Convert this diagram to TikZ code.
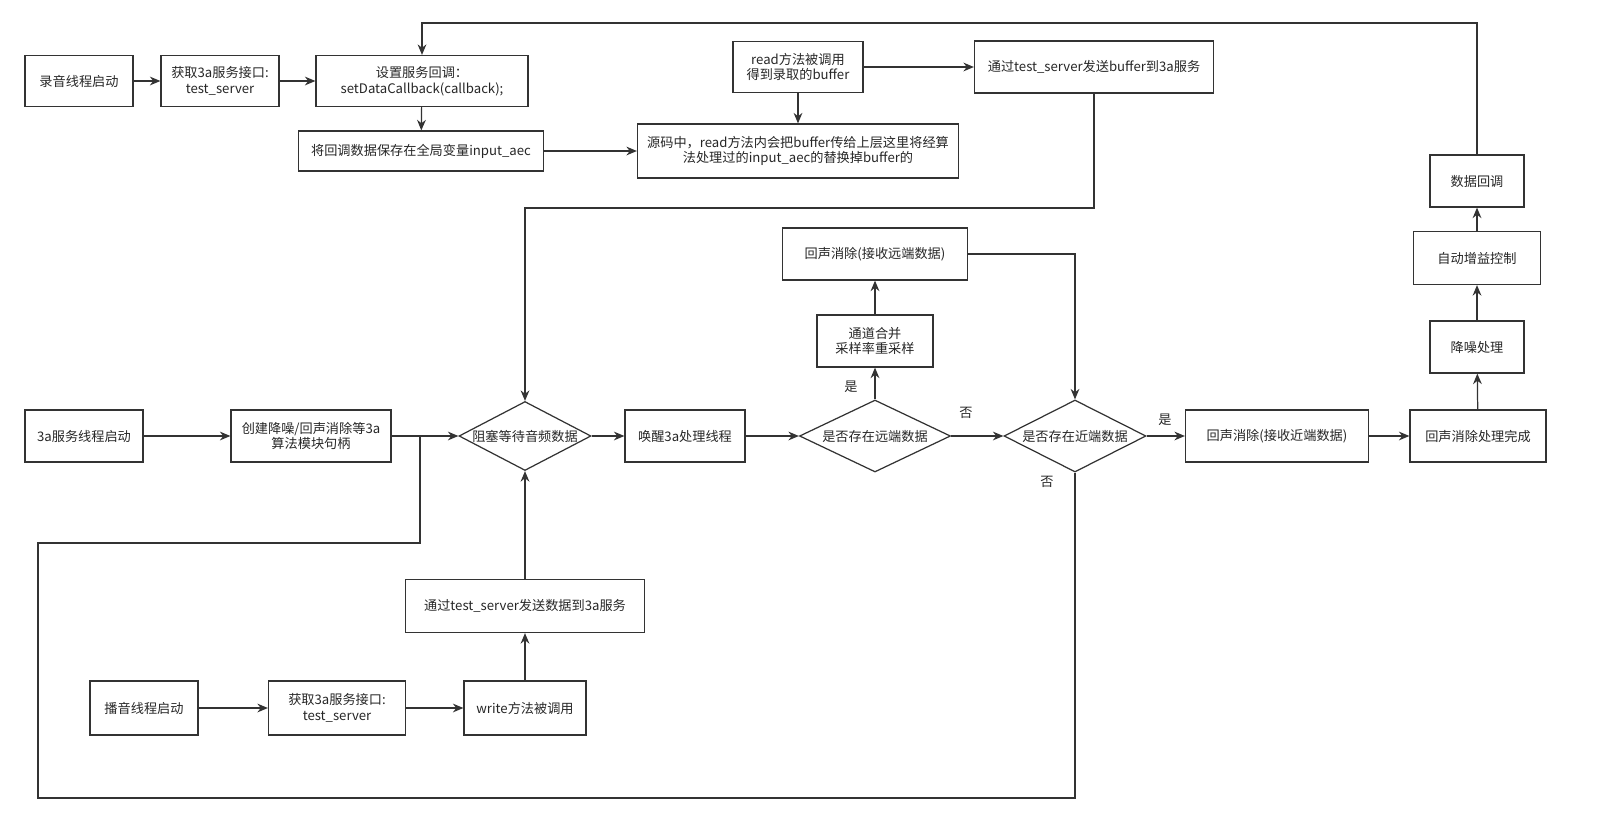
\documentclass[tikz,border=0pt]{standalone}
\usepackage{fontspec}
\setmainfont{Noto Sans CJK SC}
\usetikzlibrary{shapes.geometric,arrows.meta}
\begin{document}
\begin{tikzpicture}[x=0.02cm,y=-0.02cm,
  every node/.style={font=\fontsize{7.5}{9}\selectfont, align=center, text=black!85},
  box/.style={draw=black!80, line width=0.7pt, rectangle, inner sep=0pt},
  dia/.style={draw=black!80, line width=0.7pt, diamond, aspect=1.9, inner sep=0pt},
  ar/.style={draw=black!80, line width=0.7pt, -{Stealth[length=6pt,width=5pt]}},
  ln/.style={draw=black!80, line width=0.7pt},
  lab/.style={font=\fontsize{7.5}{9}\selectfont}]
\useasboundingbox (0,0) rectangle (1599,839);
\def\bx#1#2#3#4#5#6{\node[box, minimum width=#4*0.02cm, minimum height=#5*0.02cm] (#1) at (#2,#3) {#6};}
\bx{a1}{79}{81}{108}{51}{录音线程启动}
\bx{a2}{220}{81}{118}{51}{获取3a服务接口:\\test\_server}
\bx{a3}{422}{81}{212}{51}{设置服务回调：\\setDataCallback(callback);}
\bx{a4}{421}{151}{245}{40}{将回调数据保存在全局变量input\_aec}
\bx{a5}{798}{67}{130}{51}{read方法被调用\\得到录取的buffer}
\bx{a6}{1094}{67}{239}{52}{通过test\_server发送buffer到3a服务}
\bx{a7}{798}{151}{321}{54}{源码中，read方法内会把buffer传给上层这里将经算\\法处理过的input\_aec的替换掉buffer的}
\bx{b1}{1477}{181}{94}{52}{数据回调}
\bx{b2}{1477}{258}{127}{53}{自动增益控制}
\bx{b3}{1477}{347}{94}{52}{降噪处理}
\bx{b4}{1478}{436}{136}{52}{回声消除处理完成}
\bx{c1}{875}{254}{185}{52}{回声消除(接收远端数据)}
\bx{c2}{875}{341}{116}{52}{通道合并\\采样率重采样}
\bx{d1}{84}{436}{118}{52}{3a服务线程启动}
\bx{d2}{311}{436}{160}{52}{创建降噪/回声消除等3a\\算法模块句柄}
\node[dia, minimum width=132*0.02cm, minimum height=69*0.02cm] (d3) at (525,436) {阻塞等待音频数据};
\bx{d4}{685}{436}{120}{52}{唤醒3a处理线程}
\node[dia, minimum width=151*0.02cm, minimum height=72*0.02cm] (d5) at (875,436) {是否存在远端数据};
\node[dia, minimum width=142*0.02cm, minimum height=72*0.02cm] (d6) at (1075,436) {是否存在近端数据};
\bx{d7}{1277}{436}{183}{52}{回声消除(接收近端数据)}
\bx{e1}{525}{606}{239}{53}{通过test\_server发送数据到3a服务}
\bx{e2}{144}{708}{108}{54}{播音线程启动}
\bx{e3}{337}{708}{137}{54}{获取3a服务接口:\\test\_server}
\bx{e4}{525}{708}{122}{54}{write方法被调用}
\path[ar] (a1) -- (a2);
\path[ar] (a2) -- (a3);
\path[ar] (a3) -- (a4);
\path[ar] (a4) -- (a7);
\path[ar] (a5) -- (a7);
\path[ar] (a5) -- (a6);
\path[ar] (a6.south) -- (1094,208) -- (525,208) -- (d3.north);
\path[ar] (b1.north) -- (1477,23) -- (422,23) -- (a3.north);
\path[ar] (b4) -- (b3);
\path[ar] (b3) -- (b2);
\path[ar] (b2) -- (b1);
\path[ar] (d1) -- (d2);
\path[ar] (d2) -- (d3);
\path[ar] (d3) -- (d4);
\path[ar] (d4) -- (d5);
\path[ar] (d5) -- (d6);
\path[ar] (d5) -- (c2);
\path[ar] (c2) -- (c1);
\path[ar] (c1.east) -- (1075,254) -- (d6.north);
\path[ar] (d6) -- (d7);
\path[ar] (d7) -- (b4);
\path[ln] (d6.south) -- (1075,798) -- (38,798) -- (38,543) -- (420,543) -- (420,436);
\path[ar] (e2) -- (e3);
\path[ar] (e3) -- (e4);
\path[ar] (e4) -- (e1);
\path[ar] (e1) -- (d3.south);
\node[lab] (l1) at (966,413) {否};
\node[lab] (l2) at (851,387) {是};
\node[lab] (l3) at (1165,420) {是};
\node[lab] (l4) at (1047,482) {否};
\end{tikzpicture}
\end{document}
